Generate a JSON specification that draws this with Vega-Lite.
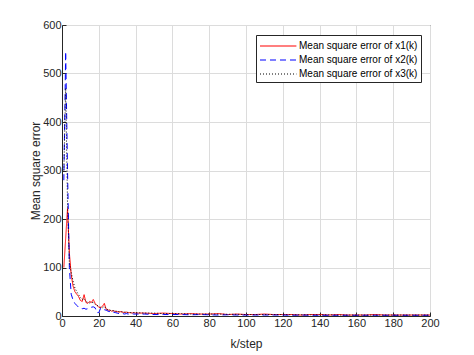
{
  "$schema": "https://vega.github.io/schema/vega-lite/v6.json",
  "width": 368,
  "height": 291,
  "autosize": {"type": "none"},
  "padding": {"left": 62, "top": 25, "right": 44, "bottom": 39},
  "background": "white",
  "config": {
    "font": "Liberation Sans",
    "view": {"stroke": "#262626", "strokeWidth": 1},
    "axis": {
      "labelFont": "Liberation Sans",
      "titleFont": "Liberation Sans",
      "labelFontSize": 11,
      "titleFontSize": 12,
      "labelColor": "#262626",
      "titleColor": "#262626",
      "titleFontWeight": "normal",
      "domainColor": "#262626",
      "tickColor": "#262626",
      "gridColor": "#dcdcdc",
      "gridOpacity": 1,
      "labelFlush": false
    }
  },
  "data": {
    "values": [
      {"k": 1, "x1": 100, "x2": 280, "x3": 300},
      {"k": 2, "x1": 160, "x2": 545, "x3": 470},
      {"k": 3, "x1": 222, "x2": 300, "x3": 230},
      {"k": 4, "x1": 130, "x2": 100, "x3": 110},
      {"k": 5, "x1": 85, "x2": 45, "x3": 90},
      {"k": 6, "x1": 62, "x2": 33, "x3": 72},
      {"k": 7, "x1": 50, "x2": 26, "x3": 58},
      {"k": 8, "x1": 45, "x2": 22, "x3": 50},
      {"k": 9, "x1": 40, "x2": 18, "x3": 44},
      {"k": 10, "x1": 32, "x2": 16, "x3": 38},
      {"k": 11, "x1": 30, "x2": 15, "x3": 34},
      {"k": 12, "x1": 44, "x2": 16, "x3": 36},
      {"k": 13, "x1": 28, "x2": 14, "x3": 30},
      {"k": 14, "x1": 26, "x2": 15, "x3": 28},
      {"k": 15, "x1": 30, "x2": 17, "x3": 27},
      {"k": 16, "x1": 28, "x2": 18, "x3": 28},
      {"k": 17, "x1": 34, "x2": 19, "x3": 28},
      {"k": 18, "x1": 26, "x2": 17, "x3": 24},
      {"k": 19, "x1": 22, "x2": 7, "x3": 22},
      {"k": 20, "x1": 18, "x2": 7, "x3": 20},
      {"k": 21, "x1": 17, "x2": 16, "x3": 18},
      {"k": 22, "x1": 20, "x2": 15, "x3": 17},
      {"k": 23, "x1": 26, "x2": 13, "x3": 20},
      {"k": 24, "x1": 14, "x2": 12, "x3": 15},
      {"k": 25, "x1": 12, "x2": 10, "x3": 13},
      {"k": 26, "x1": 12, "x2": 9, "x3": 12},
      {"k": 27, "x1": 10, "x2": 11, "x3": 11},
      {"k": 28, "x1": 11, "x2": 8, "x3": 11},
      {"k": 29, "x1": 9, "x2": 7, "x3": 10},
      {"k": 30, "x1": 9, "x2": 6, "x3": 10},
      {"k": 31, "x1": 8, "x2": 5, "x3": 9},
      {"k": 32, "x1": 9, "x2": 6, "x3": 9},
      {"k": 33, "x1": 8, "x2": 5, "x3": 8},
      {"k": 34, "x1": 7, "x2": 4, "x3": 8},
      {"k": 35, "x1": 8, "x2": 5, "x3": 8},
      {"k": 36, "x1": 7, "x2": 4, "x3": 7},
      {"k": 37, "x1": 7, "x2": 4, "x3": 7},
      {"k": 38, "x1": 6, "x2": 5, "x3": 7},
      {"k": 39, "x1": 7, "x2": 4, "x3": 7},
      {"k": 40, "x1": 6, "x2": 4, "x3": 7},
      {"k": 45, "x1": 6, "x2": 4, "x3": 6},
      {"k": 50, "x1": 5, "x2": 3, "x3": 6},
      {"k": 55, "x1": 6, "x2": 3, "x3": 5},
      {"k": 60, "x1": 5, "x2": 3, "x3": 5},
      {"k": 65, "x1": 4, "x2": 3, "x3": 5},
      {"k": 70, "x1": 5, "x2": 2.5, "x3": 4},
      {"k": 75, "x1": 4, "x2": 3, "x3": 4},
      {"k": 80, "x1": 4, "x2": 2.5, "x3": 4},
      {"k": 85, "x1": 5, "x2": 2, "x3": 4},
      {"k": 90, "x1": 3, "x2": 2.5, "x3": 3.5},
      {"k": 95, "x1": 4, "x2": 2, "x3": 3.5},
      {"k": 100, "x1": 3, "x2": 2, "x3": 3},
      {"k": 105, "x1": 3, "x2": 2, "x3": 3},
      {"k": 110, "x1": 4, "x2": 2, "x3": 3},
      {"k": 115, "x1": 3, "x2": 2, "x3": 3},
      {"k": 120, "x1": 3, "x2": 2, "x3": 3},
      {"k": 125, "x1": 3, "x2": 1.5, "x3": 2.5},
      {"k": 130, "x1": 2, "x2": 2, "x3": 2.5},
      {"k": 135, "x1": 3, "x2": 1.5, "x3": 2.5},
      {"k": 140, "x1": 3, "x2": 1.5, "x3": 2.5},
      {"k": 145, "x1": 2, "x2": 1.5, "x3": 2.5},
      {"k": 150, "x1": 3, "x2": 1.5, "x3": 2},
      {"k": 155, "x1": 2, "x2": 1.5, "x3": 2},
      {"k": 160, "x1": 2, "x2": 1.5, "x3": 2},
      {"k": 165, "x1": 2, "x2": 1.5, "x3": 2},
      {"k": 170, "x1": 3, "x2": 1.5, "x3": 2},
      {"k": 175, "x1": 2, "x2": 1.5, "x3": 2},
      {"k": 180, "x1": 2, "x2": 1.5, "x3": 2},
      {"k": 185, "x1": 2, "x2": 1.5, "x3": 2},
      {"k": 190, "x1": 2, "x2": 1.5, "x3": 2},
      {"k": 195, "x1": 2, "x2": 1.5, "x3": 2},
      {"k": 200, "x1": 2, "x2": 1.5, "x3": 2}
    ]
  },
  "transform": [{"fold": ["x1", "x2", "x3"], "as": ["series", "value"]}],
  "mark": {"type": "line", "strokeWidth": 1, "clip": true},
  "encoding": {
    "x": {
      "field": "k", "type": "quantitative",
      "scale": {"domain": [0, 200], "nice": false},
      "axis": {"title": "k/step", "values": [0,20,40,60,80,100,120,140,160,180,200], "tickSize": -4, "labelPadding": 5, "titlePadding": 10}
    },
    "y": {
      "field": "value", "type": "quantitative",
      "scale": {"domain": [0, 600], "nice": false},
      "axis": {"title": "Mean square error", "values": [0,100,200,300,400,500,600], "tickSize": -4, "labelPadding": 5, "titlePadding": 0}
    },
    "color": {
      "field": "series", "type": "nominal",
      "scale": {"domain": ["x1", "x2", "x3"], "range": ["#ff0000", "#0000ff", "#000000"]},
      "legend": {
        "title": null,
        "orient": "none",
        "legendX": 194,
        "legendY": 10,
        "symbolType": "M-1,0H4.2",
        "symbolSize": 196,
        "symbolStrokeWidth": 1.2,
        "symbolFillColor": "transparent",
        "labelFont": "Liberation Sans",
        "labelFontSize": 10,
        "labelColor": "#000000",
        "labelExpr": "'Mean square error of ' + datum.label + '(k)'",
        "labelOffset": 24,
        "rowPadding": 1,
        "padding": 3,
        "strokeColor": "#262626",
        "fillColor": "white",
        "cornerRadius": 0
      }
    },
    "strokeDash": {
      "field": "series", "type": "nominal",
      "scale": {"domain": ["x1", "x2", "x3"], "range": [[1, 0], [6, 4], [1, 2]]}
    }
  }
}
